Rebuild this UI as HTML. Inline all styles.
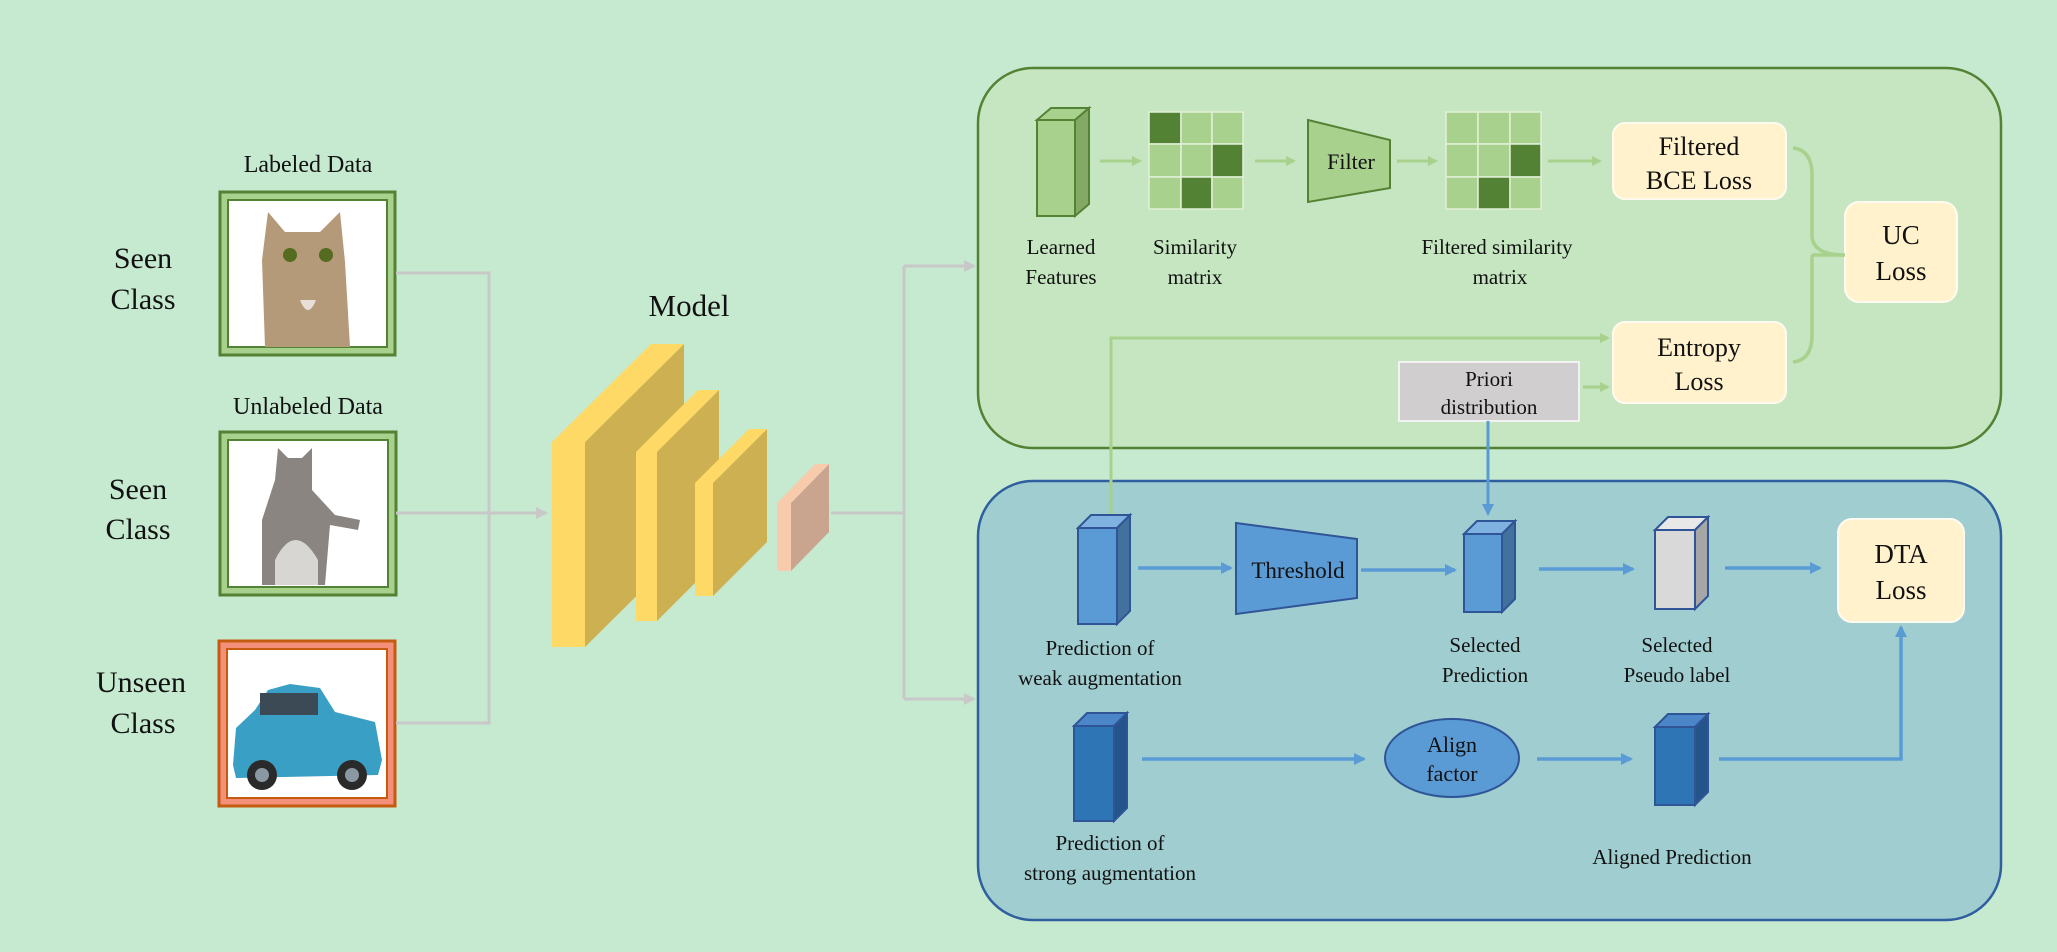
<!DOCTYPE html>
<html><head><meta charset="utf-8"><style>
html,body{margin:0;padding:0;background:#c6ead0;}
svg{display:block;}
text{font-family:"Liberation Serif",serif;fill:#111;}
</style></head><body>
<svg width="2057" height="952" viewBox="0 0 2057 952" xmlns="http://www.w3.org/2000/svg">
<defs>
<marker id="ag" markerWidth="10" markerHeight="10" refX="8" refY="5" orient="auto" markerUnits="userSpaceOnUse"><path d="M0,0 L10,5 L0,10 z" fill="#a9d18e"/></marker>
<marker id="ab" markerWidth="12" markerHeight="12" refX="10" refY="6" orient="auto" markerUnits="userSpaceOnUse"><path d="M0,0 L12,6 L0,12 z" fill="#5b9bd5"/></marker>
<marker id="agr" markerWidth="12" markerHeight="12" refX="10" refY="6" orient="auto" markerUnits="userSpaceOnUse"><path d="M0,0 L12,6 L0,12 z" fill="#c8c8c8"/></marker>
</defs>
<rect width="2057" height="952" fill="#c6ead0"/>

<!-- left labels -->
<text x="308" y="172" font-size="24" text-anchor="middle">Labeled Data</text>
<text x="308" y="414" font-size="24" text-anchor="middle">Unlabeled Data</text>
<text x="143" y="268" font-size="30" text-anchor="middle">Seen</text>
<text x="143" y="309" font-size="30" text-anchor="middle">Class</text>
<text x="138" y="499" font-size="30" text-anchor="middle">Seen</text>
<text x="138" y="539" font-size="30" text-anchor="middle">Class</text>
<text x="141" y="692" font-size="30" text-anchor="middle">Unseen</text>
<text x="143" y="733" font-size="30" text-anchor="middle">Class</text>

<!-- frames -->
<g>
<rect x="220" y="192" width="175" height="163" fill="#a9d18e" stroke="#548235" stroke-width="3"/>
<rect x="228" y="200" width="159" height="147" fill="#fff" stroke="#548235" stroke-width="2"/>
<path d="M265,347 L262,260 L268,212 L285,232 L320,232 L340,212 L345,262 L350,347 z" fill="#b59a7a"/>
<circle cx="290" cy="255" r="7" fill="#556b1f"/><circle cx="326" cy="255" r="7" fill="#556b1f"/>
<path d="M300,300 Q308,320 316,300 z" fill="#e8e0d8"/>
</g>
<g>
<rect x="220" y="432" width="176" height="163" fill="#a9d18e" stroke="#548235" stroke-width="3"/>
<rect x="228" y="440" width="160" height="147" fill="#fff" stroke="#548235" stroke-width="2"/>
<path d="M262,585 L262,520 L275,480 L278,448 L288,458 L302,458 L312,448 L312,490 L335,515 L360,520 L358,530 L330,525 L325,585 z" fill="#8a8580"/>
<path d="M275,560 Q295,520 318,560 L318,585 L275,585 z" fill="#d8d6d2"/>
</g>
<g>
<rect x="219" y="641" width="176" height="165" fill="#f4907a" stroke="#c55a11" stroke-width="3"/>
<rect x="227" y="649" width="160" height="149" fill="#fff" stroke="#c55a11" stroke-width="2"/>
<path d="M233,765 L236,728 L255,710 L268,690 L290,684 L320,688 L335,712 L375,722 L382,760 L378,775 L236,778 z" fill="#3a9fc4"/>
<rect x="260" y="693" width="58" height="22" fill="#3b4a55"/>
<circle cx="262" cy="775" r="15" fill="#2a2a2a"/><circle cx="262" cy="775" r="7" fill="#8a98a3"/>
<circle cx="352" cy="775" r="15" fill="#2a2a2a"/><circle cx="352" cy="775" r="7" fill="#8a98a3"/>
</g>

<!-- left connector -->
<g fill="none" stroke="#c8c8c8" stroke-width="3">
<path d="M396,273 L489,273 L489,723 L396,723"/>
<path d="M396,513 L546,513" marker-end="url(#agr)"/>
</g>

<!-- model -->
<text x="689" y="316" font-size="31" text-anchor="middle">Model</text>
<g>
<polygon points="585,442 684,344 684,549 585,647" fill="#cdb052"/>
<polygon points="552,442 585,442 684,344 651,344" fill="#ffd966"/>
<rect x="552" y="442" width="33" height="205" fill="#ffd966"/>
<polygon points="657,452 719,390 719,559 657,621" fill="#cdb052"/>
<polygon points="636,452 657,452 719,390 698,390" fill="#ffd966"/>
<rect x="636" y="452" width="21" height="169" fill="#ffd966"/>
<polygon points="713,483 767,429 767,542 713,596" fill="#cdb052"/>
<polygon points="695,483 713,483 767,429 749,429" fill="#ffd966"/>
<rect x="695" y="483" width="18" height="113" fill="#ffd966"/>
<polygon points="791,503 829,464 829,532 791,571" fill="#c9a58f"/>
<polygon points="777,503 791,503 829,464 815,464" fill="#f8cbad"/>
<rect x="777" y="503" width="14" height="68" fill="#f8cbad"/>
</g>
<g fill="none" stroke="#c8c8c8" stroke-width="3">
<path d="M831,513 L904,513"/>
<path d="M904,266 L904,699"/>
<path d="M904,266 L974,266" marker-end="url(#agr)"/>
<path d="M904,699 L974,699" marker-end="url(#agr)"/>
</g>

<!-- green box -->
<rect x="978" y="68" width="1023" height="380" rx="55" fill="#c5e6c0" stroke="#548235" stroke-width="2.5"/>
<!-- blue box -->
<rect x="978" y="481" width="1023" height="439" rx="55" fill="#a0cdd0" stroke="#2f5f9f" stroke-width="2.5"/>

<!-- learned features cube -->
<polygon points="1037,120 1051,108 1089,108 1075,120" fill="#a9d18e" stroke="#548235" stroke-width="2"/>
<polygon points="1075,120 1089,108 1089,204 1075,216" fill="#84a866" stroke="#548235" stroke-width="2"/>
<rect x="1037" y="120" width="38" height="96" fill="#a9d18e" stroke="#548235" stroke-width="2"/>
<g stroke="#a9d18e" stroke-width="3" fill="none">
<path d="M1100,161 L1140,161" marker-end="url(#ag)"/>
<path d="M1255,161 L1294,161" marker-end="url(#ag)"/>
<path d="M1397,161 L1436,161" marker-end="url(#ag)"/>
<path d="M1548,161 L1600,161" marker-end="url(#ag)"/>
</g>
<!-- sim matrix -->
<g stroke="#e2f0d9" stroke-width="1.5">
<rect x="1149" y="112" width="32" height="32" fill="#548235"/>
<rect x="1181" y="112" width="31" height="32" fill="#a9d18e"/>
<rect x="1212" y="112" width="31" height="32" fill="#a9d18e"/>
<rect x="1149" y="144" width="32" height="33" fill="#a9d18e"/>
<rect x="1181" y="144" width="31" height="33" fill="#a9d18e"/>
<rect x="1212" y="144" width="31" height="33" fill="#548235"/>
<rect x="1149" y="177" width="32" height="32" fill="#a9d18e"/>
<rect x="1181" y="177" width="31" height="32" fill="#548235"/>
<rect x="1212" y="177" width="31" height="32" fill="#a9d18e"/>
</g>
<polygon points="1308,120 1390,140 1390,188 1308,202" fill="#a9d18e" stroke="#548235" stroke-width="2"/>
<text x="1351" y="169" font-size="22" text-anchor="middle">Filter</text>
<g stroke="#e2f0d9" stroke-width="1.5">
<rect x="1446" y="112" width="32" height="32" fill="#a9d18e"/>
<rect x="1478" y="112" width="32" height="32" fill="#a9d18e"/>
<rect x="1510" y="112" width="31" height="32" fill="#a9d18e"/>
<rect x="1446" y="144" width="32" height="33" fill="#a9d18e"/>
<rect x="1478" y="144" width="32" height="33" fill="#a9d18e"/>
<rect x="1510" y="144" width="31" height="33" fill="#548235"/>
<rect x="1446" y="177" width="32" height="32" fill="#a9d18e"/>
<rect x="1478" y="177" width="32" height="32" fill="#548235"/>
<rect x="1510" y="177" width="31" height="32" fill="#a9d18e"/>
</g>
<g font-size="21" text-anchor="middle">
<text x="1061" y="254">Learned</text><text x="1061" y="284">Features</text>
<text x="1195" y="254">Similarity</text><text x="1195" y="284">matrix</text>
<text x="1497" y="254">Filtered similarity</text><text x="1500" y="284">matrix</text>
</g>
<!-- loss boxes -->
<rect x="1613" y="123" width="173" height="76" rx="12" fill="#fff2cc" stroke="#fffaf0" stroke-width="2"/>
<text x="1699" y="155" font-size="26" text-anchor="middle">Filtered</text>
<text x="1699" y="189" font-size="26" text-anchor="middle">BCE Loss</text>
<rect x="1613" y="322" width="173" height="81" rx="12" fill="#fff2cc" stroke="#fffaf0" stroke-width="2"/>
<text x="1699" y="356" font-size="26" text-anchor="middle">Entropy</text>
<text x="1699" y="390" font-size="26" text-anchor="middle">Loss</text>
<rect x="1845" y="202" width="112" height="100" rx="14" fill="#fff2cc" stroke="#fffaf0" stroke-width="2"/>
<text x="1901" y="244" font-size="27" text-anchor="middle">UC</text>
<text x="1901" y="280" font-size="27" text-anchor="middle">Loss</text>
<path d="M1793,148 Q1812,150 1812,175 L1812,235 Q1812,255 1845,255 M1812,255 Q1812,255 1812,275 L1812,335 Q1812,360 1793,362 M1812,255 L1845,255" fill="none" stroke="#a9d18e" stroke-width="3.5"/>
<!-- priori -->
<rect x="1399" y="362" width="180" height="59" fill="#d0cece" stroke="#f2f2f2" stroke-width="2"/>
<text x="1489" y="386" font-size="21" text-anchor="middle">Priori</text>
<text x="1489" y="414" font-size="21" text-anchor="middle">distribution</text>
<path d="M1583,387 L1608,387" stroke="#a9d18e" stroke-width="3" marker-end="url(#ag)"/>
<path d="M1111,516 L1111,338 L1608,338" fill="none" stroke="#a9d18e" stroke-width="3" marker-end="url(#ag)"/>
<path d="M1488,421 L1488,514" stroke="#5b9bd5" stroke-width="3" marker-end="url(#ab)"/>

<!-- blue content -->
<g stroke="#2f5597" stroke-width="2">
<polygon points="1078,528 1091,515 1130,515 1117,528" fill="#7fb2e0"/>
<polygon points="1117,528 1130,515 1130,611 1117,624" fill="#41719c"/>
<rect x="1078" y="528" width="39" height="96" fill="#5b9bd5"/>
<polygon points="1236,523 1357,539 1357,598 1236,614" fill="#5b9bd5"/>
<polygon points="1464,534 1477,521 1515,521 1502,534" fill="#7fb2e0"/>
<polygon points="1502,534 1515,521 1515,599 1502,612" fill="#41719c"/>
<rect x="1464" y="534" width="38" height="78" fill="#5b9bd5"/>
<polygon points="1655,530 1668,517 1708,517 1695,530" fill="#e8e8e8"/>
<polygon points="1695,530 1708,517 1708,596 1695,609" fill="#a6a6a6"/>
<rect x="1655" y="530" width="40" height="79" fill="#d9d9d9"/>
<polygon points="1074,726 1087,713 1127,713 1114,726" fill="#4a86c8"/>
<polygon points="1114,726 1127,713 1127,808 1114,821" fill="#25548a"/>
<rect x="1074" y="726" width="40" height="95" fill="#2e75b6"/>
<polygon points="1655,727 1668,714 1708,714 1695,727" fill="#4a86c8"/>
<polygon points="1695,727 1708,714 1708,792 1695,805" fill="#25548a"/>
<rect x="1655" y="727" width="40" height="78" fill="#2e75b6"/>
<ellipse cx="1452" cy="758" rx="67" ry="39" fill="#5b9bd5"/>
</g>
<text x="1298" y="578" font-size="23" text-anchor="middle">Threshold</text>
<text x="1452" y="752" font-size="22" text-anchor="middle">Align</text>
<text x="1452" y="781" font-size="22" text-anchor="middle">factor</text>
<rect x="1838" y="519" width="126" height="103" rx="14" fill="#fff2cc" stroke="#fffaf0" stroke-width="2"/>
<text x="1901" y="563" font-size="27" text-anchor="middle">DTA</text>
<text x="1901" y="599" font-size="27" text-anchor="middle">Loss</text>
<g stroke="#5b9bd5" stroke-width="3.5" fill="none">
<path d="M1138,568 L1231,568" marker-end="url(#ab)"/>
<path d="M1361,570 L1455,570" marker-end="url(#ab)"/>
<path d="M1539,569 L1633,569" marker-end="url(#ab)"/>
<path d="M1725,568 L1820,568" marker-end="url(#ab)"/>
<path d="M1142,759 L1364,759" marker-end="url(#ab)"/>
<path d="M1537,759 L1631,759" marker-end="url(#ab)"/>
<path d="M1719,759 L1901,759 L1901,627" marker-end="url(#ab)"/>
</g>
<g font-size="21" text-anchor="middle">
<text x="1100" y="655">Prediction of</text><text x="1100" y="685">weak augmentation</text>
<text x="1485" y="652">Selected</text><text x="1485" y="682">Prediction</text>
<text x="1677" y="652">Selected</text><text x="1677" y="682">Pseudo label</text>
<text x="1110" y="850">Prediction of</text><text x="1110" y="880">strong augmentation</text>
<text x="1672" y="864">Aligned Prediction</text>
</g>
</svg>
</body></html>
